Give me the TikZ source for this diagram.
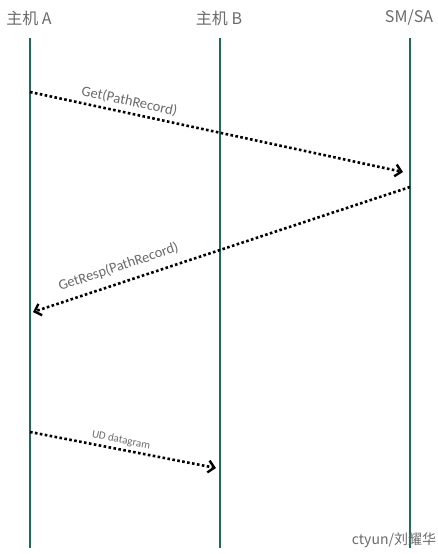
\documentclass[tikz,border=0pt]{standalone}
\usepackage{fontspec}
\setmainfont{Carlito}
\newfontfamily\cjk{Noto Sans CJK SC}
\usetikzlibrary{arrows.meta}
\definecolor{lifegreen}{HTML}{1E6B57}
\definecolor{msggray}{HTML}{6A6A6A}
\tikzset{
  host/.style={font=\cjk\fontsize{16}{18}\selectfont, text=msggray},
  life/.style={draw=lifegreen, line width=2pt},
  msg/.style={line width=2.6pt, dash pattern=on 2.6pt off 2.4pt,
    -{Straight Barb[length=6pt,width=12pt,line width=2.4pt]}},
  msglabel/.style={font=\fontsize{14.5}{16}\selectfont, text=msggray, sloped, inner sep=1pt}
}
\begin{document}
\begin{tikzpicture}[x=1pt,y=-1pt]
\useasboundingbox (0,0) rectangle (438,554);

\node[host] (hostA) at (29,18) {主机 A};
\node[host] (hostB) at (219,18) {主机 B};
\node[host] (smsa) at (409,18) {SM/SA};

\coordinate (A top) at (30,38);   \coordinate (A bot) at (30,548);
\coordinate (B top) at (220,38);  \coordinate (B bot) at (220,548);
\coordinate (S top) at (410,38);  \coordinate (S bot) at (410,548);

\draw[life] (A top) -- (A bot);
\draw[life] (B top) -- (B bot);
\draw[life] (S top) -- (S bot);

% messages
\coordinate (get0) at (30,92);    \coordinate (get1) at (403,172);
\coordinate (resp0) at (410,187); \coordinate (resp1) at (33,312);
\coordinate (ud0) at (30,432);    \coordinate (ud1) at (216,468);

\draw[msg] (get0) -- node[msglabel, above=3pt, pos=0.26] {Get(PathRecord)} (get1);
\draw[msg] (resp0) -- node[msglabel, above=7pt, pos=0.76] {GetResp(PathRecord)} (resp1);
\draw[msg] (ud0) -- node[msglabel, above=2pt, pos=0.48, font=\fontsize{11}{12}\selectfont] {UD datagram} (ud1);

\node[font=\cjk\fontsize{14}{16}\selectfont, text=msggray] (mark) at (394,540) {ctyun/刘耀华};
\end{tikzpicture}
\end{document}
